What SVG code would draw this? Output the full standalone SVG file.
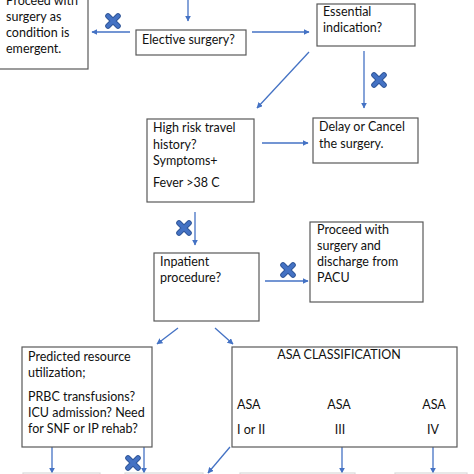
<svg xmlns="http://www.w3.org/2000/svg" width="474" height="474" viewBox="0 0 474 474">
<defs>
<marker id="ah" viewBox="0 0 10 10" refX="9" refY="5" markerWidth="6" markerHeight="6" markerUnits="userSpaceOnUse" orient="auto">
<path d="M0,0 L10,5 L0,10 z" fill="#4472C4"/>
</marker>
<g id="xm">
<path d="M-5,-5 L5,5 M-5,5 L5,-5" stroke="#2F5597" stroke-width="5.6" stroke-linecap="round"/>
<path d="M-5,-5 L5,5 M-5,5 L5,-5" stroke="#4472C4" stroke-width="3.8" stroke-linecap="round"/>
</g>
</defs>
<style>
.box{fill:#fff;stroke:#595959;stroke-width:1.2}
.lbox{fill:#fff;stroke:#d9d9d9;stroke-width:1.2}
.t{font-family:Lato,"Liberation Sans",sans-serif;font-size:12.5px;fill:#111}
.c{stroke:#4472C4;stroke-width:1.3;fill:none;marker-end:url(#ah)}
</style>
<rect width="474" height="474" fill="#fff"/>
<g id="connectors">
<path class="c" d="M188,0 L188,21"/>
<path class="c" d="M130,32 L92,32"/>
<path class="c" d="M252,32 L309,32"/>
<path class="c" d="M309,52 L257,108"/>
<path class="c" d="M364,51 L364,108"/>
<path class="c" d="M262,143 L308,143"/>
<path class="c" d="M195,212 L195,245"/>
<path class="c" d="M265,281 L308,281"/>
<path class="c" d="M178,328 L157,344"/>
<path class="c" d="M215,328 L233,344"/>
<path class="c" d="M52,447 L52,473"/>
<path class="c" d="M144,447 L144,473"/>
<path class="c" d="M230,447 L208,473"/>
<path class="c" d="M342,447 L342,473"/>
<path class="c" d="M433,447 L433,473"/>
<use href="#xm" x="113" y="21"/>
<use href="#xm" x="379" y="80"/>
<use href="#xm" x="184" y="228"/>
<use href="#xm" x="288" y="270"/>
<use href="#xm" x="133" y="463"/>
</g>
<g id="n-emergent">
<rect class="box" x="-5" y="-10" width="93" height="79"/>
<text class="t" x="6" y="5">Proceed with</text>
<text class="t" x="6" y="21">surgery as</text>
<text class="t" x="6" y="37">condition is</text>
<text class="t" x="6" y="53">emergent.</text>
</g>
<g id="n-elective">
<rect class="box" x="136" y="30" width="110" height="25"/>
<text class="t" x="142" y="44">Elective surgery?</text>
</g>
<g id="n-essential">
<rect class="box" x="317" y="4" width="98" height="42"/>
<text class="t" x="323" y="16">Essential</text>
<text class="t" x="323" y="32">indication?</text>
</g>
<g id="n-highrisk">
<rect class="box" x="147" y="119" width="107" height="83"/>
<text class="t" x="153" y="132">High risk travel</text>
<text class="t" x="153" y="149">history?</text>
<text class="t" x="153" y="165">Symptoms+</text>
<text class="t" x="153" y="187">Fever &gt;38 C</text>
</g>
<g id="n-delay">
<rect class="box" x="313" y="118" width="105" height="45"/>
<text class="t" x="319" y="131">Delay or Cancel</text>
<text class="t" x="319" y="148">the surgery.</text>
</g>
<g id="n-inpatient">
<rect class="box" x="154" y="253" width="105" height="68"/>
<text class="t" x="160" y="266">Inpatient</text>
<text class="t" x="160" y="282">procedure?</text>
</g>
<g id="n-pacu">
<rect class="box" x="310" y="222" width="113" height="80"/>
<text class="t" x="317" y="234">Proceed with</text>
<text class="t" x="317" y="250">surgery and</text>
<text class="t" x="317" y="266">discharge from</text>
<text class="t" x="317" y="282">PACU</text>
</g>
<g id="n-resource">
<rect class="box" x="22" y="347" width="130" height="100"/>
<text class="t" x="28" y="361">Predicted resource</text>
<text class="t" x="28" y="377">utilization;</text>
<text class="t" x="28" y="401">PRBC transfusions?</text>
<text class="t" x="28" y="417">ICU admission? Need</text>
<text class="t" x="28" y="433">for SNF or IP rehab?</text>
</g>
<g id="n-asa">
<rect class="box" x="232" y="347" width="225" height="100"/>
<text class="t" x="339" y="359" text-anchor="middle">ASA CLASSIFICATION</text>
<text class="t" x="237" y="409">ASA</text>
<text class="t" x="237" y="434">I or II</text>
<text class="t" x="339" y="409" text-anchor="middle">ASA</text>
<text class="t" x="340" y="434" text-anchor="middle">III</text>
<text class="t" x="434" y="409" text-anchor="middle">ASA</text>
<text class="t" x="433" y="434" text-anchor="middle">IV</text>
</g>
<g id="n-bottom">
<rect class="lbox" x="23" y="473" width="77" height="10"/>
<rect class="lbox" x="125" y="473" width="78" height="10"/>
<rect class="lbox" x="240" y="473" width="115" height="10"/>
<rect class="lbox" x="395" y="473" width="72" height="10"/>
</g>
</svg>
